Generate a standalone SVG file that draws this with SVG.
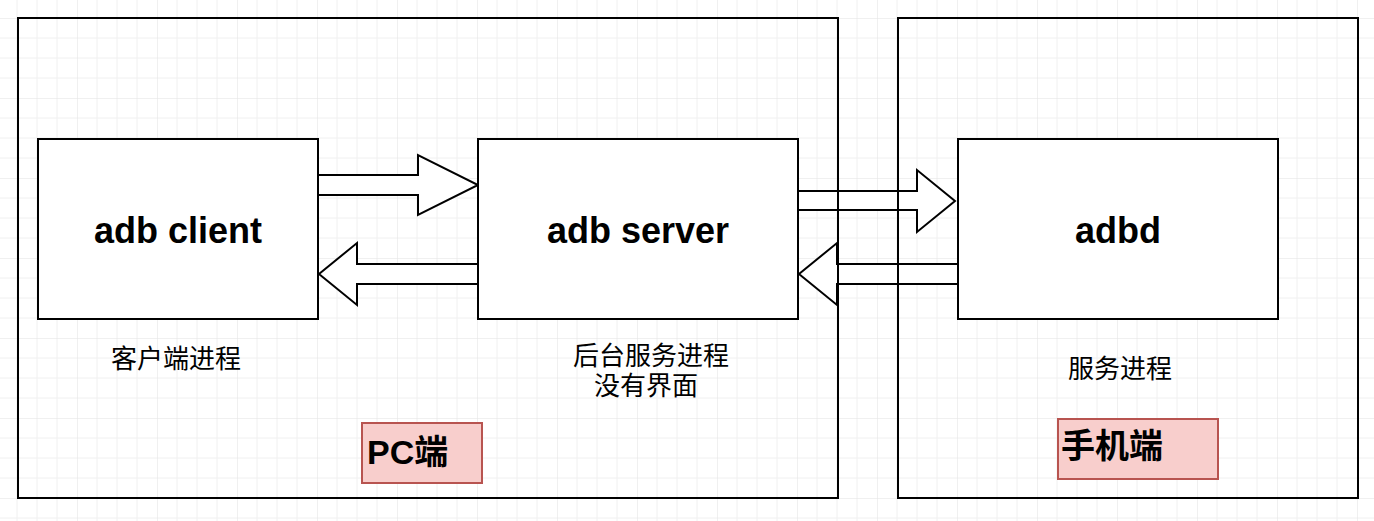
<svg xmlns="http://www.w3.org/2000/svg" width="1374" height="521" viewBox="0 0 1374 521">
<style>
.box{fill:#fff;stroke:#000;stroke-width:2}
.cont{fill:none;stroke:#000;stroke-width:2}
.arr{fill:#fff;stroke:#000;stroke-width:2;stroke-linejoin:miter}
.title{font-family:"Liberation Sans",Arial,sans-serif;font-weight:bold;font-size:36px;text-anchor:middle}
.lbl{font-family:"Liberation Sans","Noto Sans CJK SC",sans-serif;font-size:26px;text-anchor:middle}
.tag{fill:#f8cecc;stroke:#b85450;stroke-width:2}
.tagt{font-family:"Liberation Sans","Noto Sans CJK SC",sans-serif;font-weight:bold;font-size:34px}
</style>
<defs>
<pattern id="g" x="-3" y="18" width="80" height="80" patternUnits="userSpaceOnUse">
<path d="M20 0V80M40 0V80M60 0V80M0 20H80M0 40H80M0 60H80" stroke="#f0f0f0" stroke-width="1" fill="none"/>
<path d="M0 0V80M0 0H80" stroke="#e2e2e2" stroke-width="1" fill="none"/>
</pattern>
</defs>
<rect width="1374" height="521" fill="#fff"/>
<rect width="1374" height="521" fill="url(#g)"/>
<g id="connectors">
<path class="arr" d="M318 175H418V155L478 185L418 215V195H318Z"/>
<path class="arr" d="M478 264H357V243L319 274L357 305V284H478Z"/>
<path class="arr" d="M798 191H917V170L955 201L917 232V210H798Z"/>
<path class="arr" d="M958 264H837V243L799 274L837 305V284H958Z"/>
</g>
<g id="pc"><rect class="cont" x="18" y="18" width="820" height="480"/></g>
<g id="phone"><rect class="cont" x="898" y="18" width="460" height="480"/></g>
<g id="client"><rect class="box" x="38" y="139" width="280" height="180"/><text class="title" x="178" y="243">adb client</text></g>
<g id="server"><rect class="box" x="478" y="139" width="320" height="180"/><text class="title" x="638" y="243">adb server</text></g>
<g id="adbd"><rect class="box" x="958" y="139" width="320" height="180"/><text class="title" x="1118" y="243">adbd</text></g>
<g id="lbl1"><text class="lbl" x="176" y="368">客户端进程</text></g>
<g id="lbl2"><text class="lbl" x="651" y="365">后台服务进程</text><text class="lbl" x="646" y="395">没有界面</text></g>
<g id="lbl3"><text class="lbl" x="1120" y="378">服务进程</text></g>
<g id="pctag"><rect class="tag" x="362" y="423" width="120" height="60"/><text class="tagt" x="367" y="464">PC端</text></g>
<g id="phonetag"><rect class="tag" x="1058" y="419" width="160" height="60"/><text class="tagt" x="1061" y="458">手机端</text></g>
</svg>
